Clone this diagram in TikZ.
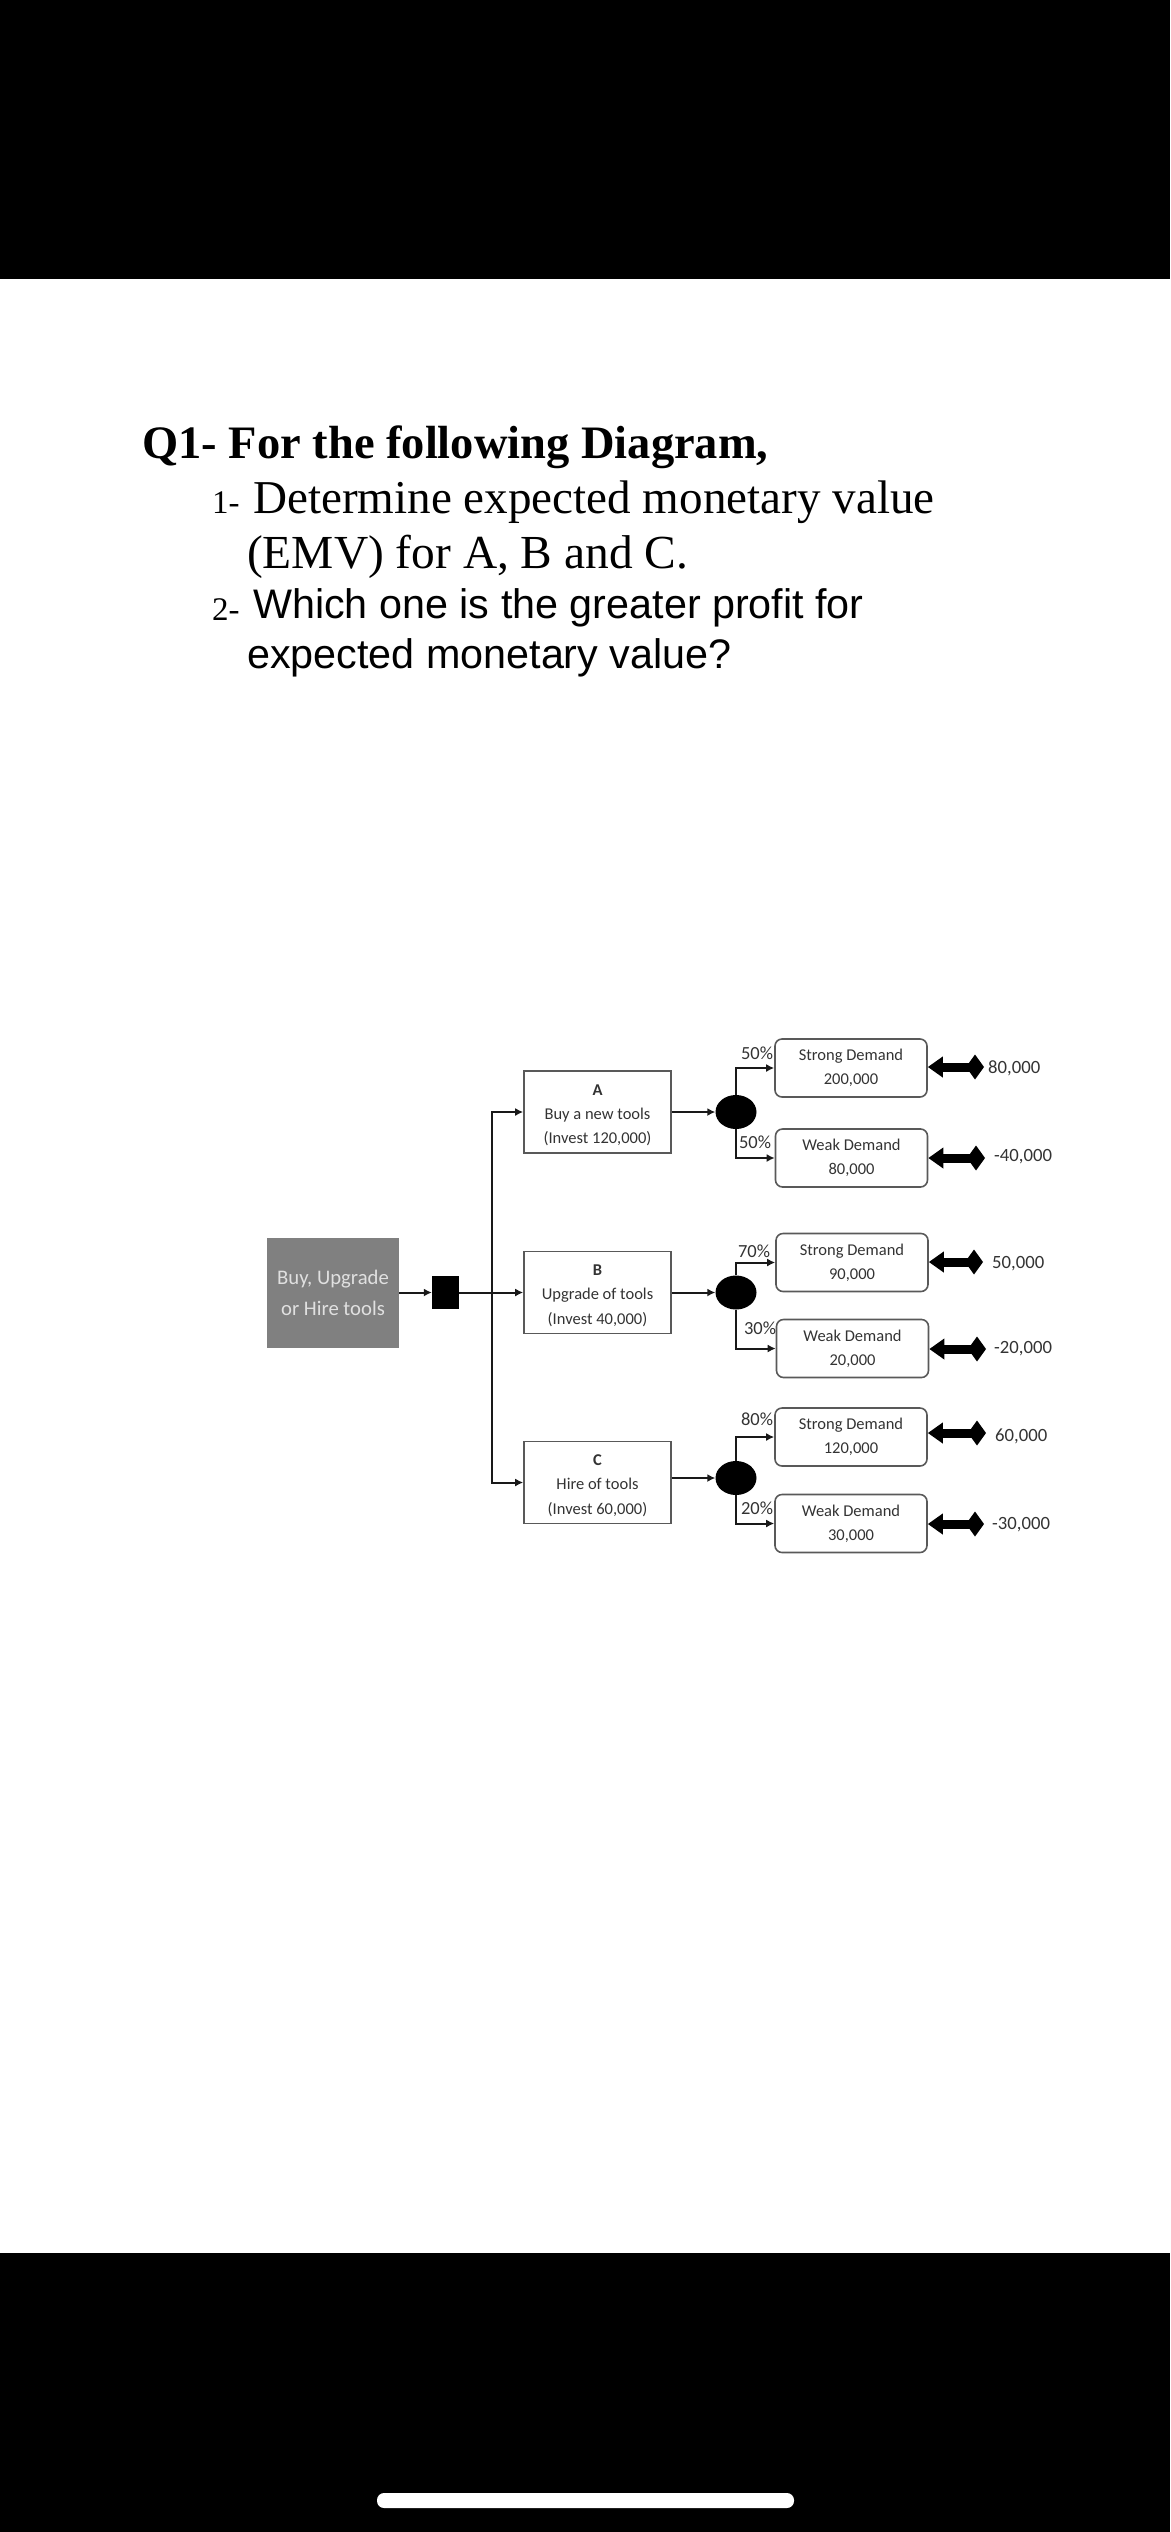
\documentclass[tikz,border=0pt]{standalone}
\usepackage{fontspec}
\setmainfont{Liberation Serif}
\newfontfamily\armfont{Liberation Sans}
\newfontfamily\boxfont{Carlito}
\usetikzlibrary{arrows.meta,positioning,shapes.geometric}

\begin{document}
\begin{tikzpicture}[x=1pt,y=-1pt]
	\useasboundingbox (0,0) rectangle (1170,2532);
	\tikzstyle{BarStyle}=[fill=black,draw=none]
	\tikzstyle{HeadStyle}=[anchor=base west,inner sep=0pt,text=black]
	\tikzstyle{TextStyle}=[font=\boxfont\fontsize{16.5}{24.3}\selectfont,align=center,text=black!80]
	\tikzstyle{ToolBox}=[TextStyle,draw=black!65,line width=1.6pt,minimum width=147pt,minimum height=82pt,inner sep=0pt]
	\tikzstyle{DemandBox}=[TextStyle,draw=black!65,line width=1.6pt,rounded corners=7pt,minimum width=152pt,minimum height=58pt,inner sep=0pt]
	\tikzstyle{PctLabel}=[font=\boxfont\fontsize{18.5}{20}\selectfont,text=black!80,inner sep=0pt]
	\tikzstyle{PayLabel}=[font=\boxfont\fontsize{18.7}{20}\selectfont,text=black!80,inner sep=0pt,anchor=west]
	\tikzstyle{EdgeStyle}=[draw=black!90,line width=2pt,-{Latex[length=8pt,width=8pt]}]
	\tikzstyle{PayEdge}=[draw=black,line width=9pt,{Triangle[length=15pt,width=20pt]}-{Diamond[length=18pt,width=25pt]}]
	\tikzstyle{ChanceNode}=[ellipse,fill=black,minimum width=41pt,minimum height=34pt,inner sep=0pt]

	\fill[BarStyle] (0,0) rectangle (1170,279);
	\fill[BarStyle] (0,2253) rectangle (1170,2532);
	\fill[white,rounded corners=7pt] (377,2493) rectangle (794,2508);

	\node[HeadStyle,font=\bfseries\fontsize{46.5}{46}\selectfont] (qone) at (142,458) {Q1- For the following Diagram,};
	\node[HeadStyle,font=\fontsize{33}{33}\selectfont] (qnuma) at (212,513) {1-};
	\node[HeadStyle,font=\fontsize{47.1}{48}\selectfont] (qlinea) at (253,513) {Determine expected monetary value};
	\node[HeadStyle,font=\fontsize{47.4}{48}\selectfont] (qlineb) at (247,568) {(EMV) for A, B and C.};
	\node[HeadStyle,font=\fontsize{33}{33}\selectfont] (qnumb) at (212,620) {2-};
	\node[HeadStyle,font=\armfont\fontsize{41.3}{41}\selectfont] (qlinec) at (253,618.5) {Which one is the greater profit for};
	\node[HeadStyle,font=\armfont\fontsize{41.3}{41}\selectfont] (qlined) at (247,668.5) {expected monetary value?};

	\node[TextStyle,fill=black!50,text=black!12,minimum width=132pt,minimum height=110pt,inner sep=0pt,font=\boxfont\fontsize{20.7}{31}\selectfont] (root) at (333,1293) {Buy, Upgrade\\or Hire tools};
	\node[fill=black,minimum width=27pt,minimum height=33pt,inner sep=0pt] (dec) at (445.5,1292.5) {};

	\node[ToolBox] (A) at (597.5,1112) {\rule{0pt}{17pt}\textbf{A}\\Buy a new tools\\(Invest 120,000)};
	\node[ToolBox] (B) at (597.5,1292.5) {\rule{0pt}{17pt}\textbf{B}\\Upgrade of tools\\(Invest 40,000)};
	\node[ToolBox] (C) at (597.5,1482.5) {\rule{0pt}{17pt}\textbf{C}\\Hire of tools\\(Invest 60,000)};

	\node[ChanceNode] (ca) at (736,1112) {};
	\node[ChanceNode] (cb) at (736,1292.5) {};
	\node[ChanceNode] (cc) at (736,1478) {};

	\node[DemandBox] (sa) at (851,1068) {Strong Demand\\200,000};
	\node[DemandBox] (wa) at (851.5,1158) {Weak Demand\\80,000};
	\node[DemandBox] (sb) at (852,1262.5) {Strong Demand\\90,000};
	\node[DemandBox] (wb) at (852.5,1348.5) {Weak Demand\\20,000};
	\node[DemandBox] (sc) at (851,1437) {Strong Demand\\120,000};
	\node[DemandBox] (wc) at (851,1523.5) {Weak Demand\\30,000};

	\node[PctLabel] (psa) at (757,1053) {50\%};
	\node[PctLabel] (pwa) at (755,1142) {50\%};
	\node[PctLabel] (psb) at (754,1251) {70\%};
	\node[PctLabel] (pwb) at (760,1328) {30\%};
	\node[PctLabel] (psc) at (757,1419) {80\%};
	\node[PctLabel] (pwc) at (757,1508) {20\%};

	\node[PayLabel] (vsa) at (988,1068.5) {80,000};
	\node[PayLabel] (vwa) at (994,1156.5) {-40,000};
	\node[PayLabel] (vsb) at (992,1263.5) {50,000};
	\node[PayLabel] (vwb) at (994,1348.5) {-20,000};
	\node[PayLabel] (vsc) at (995,1436.5) {60,000};
	\node[PayLabel] (vwc) at (992,1524.5) {-30,000};

	\coordinate (trunk) at (491.7,1292.5);
	\coordinate (ea) at (984,1067);
	\coordinate (eb) at (985,1158);
	\coordinate (ec) at (983,1262);
	\coordinate (ed) at (986,1349);
	\coordinate (ee) at (986,1433);
	\coordinate (ef) at (984,1524);

	\draw[EdgeStyle] (root.east |- dec) -- (dec);
	\draw[EdgeStyle] (dec) -- (B);
	\draw[EdgeStyle] (trunk) |- (A);
	\draw[EdgeStyle] (trunk) |- (C);

	\draw[EdgeStyle] (A) -- (ca);
	\draw[EdgeStyle] (B) -- (cb);
	\draw[EdgeStyle] (C.east |- cc) -- (cc);

	\draw[EdgeStyle] (ca) |- (sa.west);
	\draw[EdgeStyle] (ca) |- (wa.west);
	\draw[EdgeStyle] (cb) |- (sb.west);
	\draw[EdgeStyle] (cb) |- (wb.west);
	\draw[EdgeStyle] (cc) |- (sc.west);
	\draw[EdgeStyle] (cc) |- (wc.west);

	\draw[PayEdge] (sa.east |- ea) -- (ea);
	\draw[PayEdge] (wa.east |- eb) -- (eb);
	\draw[PayEdge] (sb.east |- ec) -- (ec);
	\draw[PayEdge] (wb.east |- ed) -- (ed);
	\draw[PayEdge] (sc.east |- ee) -- (ee);
	\draw[PayEdge] (wc.east |- ef) -- (ef);
\end{tikzpicture}
\end{document}
